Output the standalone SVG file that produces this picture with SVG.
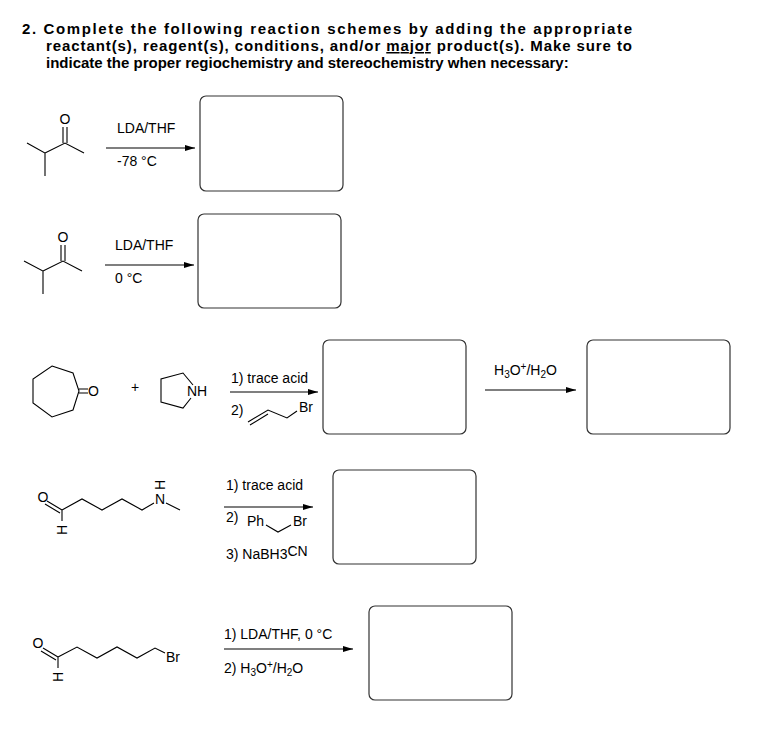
<svg xmlns="http://www.w3.org/2000/svg" width="760" height="740" viewBox="0 0 760 740">
<defs>
<marker id="ah" viewBox="0 0 10 6" refX="10" refY="3" markerWidth="10" markerHeight="6" markerUnits="userSpaceOnUse" orient="auto"><path d="M0,0 L10,3 L0,6 Z" fill="#000"/></marker>
</defs>
<style>
text{font-family:"Liberation Sans",Arial,sans-serif;font-size:14px;fill:#000}
.h{font-weight:bold;font-size:15px}
.b{fill:none;stroke:#000;stroke-width:1.1}
.box{fill:#fff;stroke:#333;stroke-width:1.2}
.arr{stroke:#000;stroke-width:1.1;marker-end:url(#ah)}
.s{font-size:10px}
</style>
<rect width="760" height="740" fill="#fff"/>
<g id="header">
<text class="h" x="22" y="34" textLength="610" lengthAdjust="spacing">2. Complete the following reaction schemes by adding the appropriate</text>
<text class="h" x="46" y="51" textLength="586" lengthAdjust="spacing">reactant(s), reagent(s), conditions, and/or <tspan text-decoration="underline">major</tspan> product(s).  Make sure to</text>
<text class="h" x="46" y="68">indicate the proper regiochemistry and stereochemistry when necessary:</text>
</g>
<g id="mol1">
<path class="b" d="M27,143 L45,153 L45,176 M45,153 L65,143 L84,153 M63,143 V127 M67,143 V127"/>
<text x="65" y="124" text-anchor="middle">O</text>
</g>
<g id="mol2">
<path class="b" d="M24,261 L43,271 L43,294 M43,271 L63,261 L82,271 M61,261 V245 M65,261 V245"/>
<text x="63" y="242" text-anchor="middle">O</text>
</g>
<g id="mol3">
<path class="b" d="M52,366 L73,373 L79,391 L73,410 L52,417 L33,403 L33,379 Z M79,389 H88 M79,393 H88"/>
<text x="88" y="396">O</text>
<text x="131" y="392">+</text>
</g>
<g id="mol4">
<path class="b" d="M193,385 L183,373 L161,379 L161,402 L183,408 L191,398"/>
<text x="187" y="396">NH</text>
</g>
<g id="mol5">
<path class="b" d="M62,510 L47,501 M60,513 L45,504 M62,510 V521 M62,510 L82,499 L102,510 L122,499 L142,510 L154,503 M166,503 L180,510"/>
<text x="43" y="502" text-anchor="middle">O</text>
<text x="62" y="530" text-anchor="middle" transform="rotate(-90 62 530)" dy="5">H</text>
<text x="160" y="504" text-anchor="middle">N</text>
<text x="160" y="485" text-anchor="middle" transform="rotate(-90 160 485)" dy="5">H</text>
</g>
<g id="mol6">
<path class="b" d="M58,657 L43,648 M56,660 L41,651 M58,657 V668 M58,657 L77,647 L97,658 L117,647 L137,658 L155,648 L165,653"/>
<text x="38" y="648" text-anchor="middle">O</text>
<text x="58" y="677" text-anchor="middle" transform="rotate(-90 58 677)" dy="5">H</text>
<text x="166" y="662">Br</text>
</g>
<g id="boxes">
<rect class="box" x="200" y="96" width="143" height="95" rx="6"/>
<rect class="box" x="198" y="214" width="143" height="94" rx="6"/>
<rect class="box" x="323" y="340" width="143" height="94" rx="6"/>
<rect class="box" x="587" y="340" width="143" height="94" rx="6"/>
<rect class="box" x="333" y="470" width="143" height="94" rx="6"/>
<rect class="box" x="369" y="606" width="143" height="94" rx="6"/>
</g>
<g id="connectors">
<line class="arr" x1="106" y1="148" x2="195" y2="148"/>
<line class="arr" x1="105" y1="265" x2="194" y2="265"/>
<line class="arr" x1="230" y1="392" x2="318" y2="392"/>
<line class="arr" x1="485" y1="390" x2="576" y2="390"/>
<line class="arr" x1="224" y1="507" x2="313" y2="507"/>
<line class="arr" x1="224" y1="649" x2="353" y2="649"/>
</g>
<g id="labels">
<text x="117" y="133">LDA/THF</text>
<text x="117" y="166">-78 °C</text>
<text x="115" y="250">LDA/THF</text>
<text x="115" y="283">0 °C</text>
<text x="231" y="383">1) trace acid</text>
<text x="231" y="415">2)</text>
<path class="b" d="M248,422 L268,410 L287,418 L297,411 M250,425 L268,414"/>
<text x="299" y="412">Br</text>
<text x="494" y="375">H<tspan class="s" dy="3">3</tspan><tspan dy="-3">O</tspan><tspan class="s" dy="-5">+</tspan><tspan dy="5">/H</tspan><tspan class="s" dy="3">2</tspan><tspan dy="-3">O</tspan></text>
<text x="226" y="490">1) trace acid</text>
<text x="226" y="522">2)</text>
<text x="247" y="526">Ph</text>
<path class="b" d="M266,525 L278,532 L291,525"/>
<text x="293" y="526">Br</text>
<text x="226" y="559">3) NaBH3<tspan dy="-3">CN</tspan></text>
<text x="224" y="639">1) LDA/THF, 0 °C</text>
<text x="224" y="673">2) H<tspan class="s" dy="3">3</tspan><tspan dy="-3">O</tspan><tspan class="s" dy="-5">+</tspan><tspan dy="5">/H</tspan><tspan class="s" dy="3">2</tspan><tspan dy="-3">O</tspan></text>
</g>
</svg>
